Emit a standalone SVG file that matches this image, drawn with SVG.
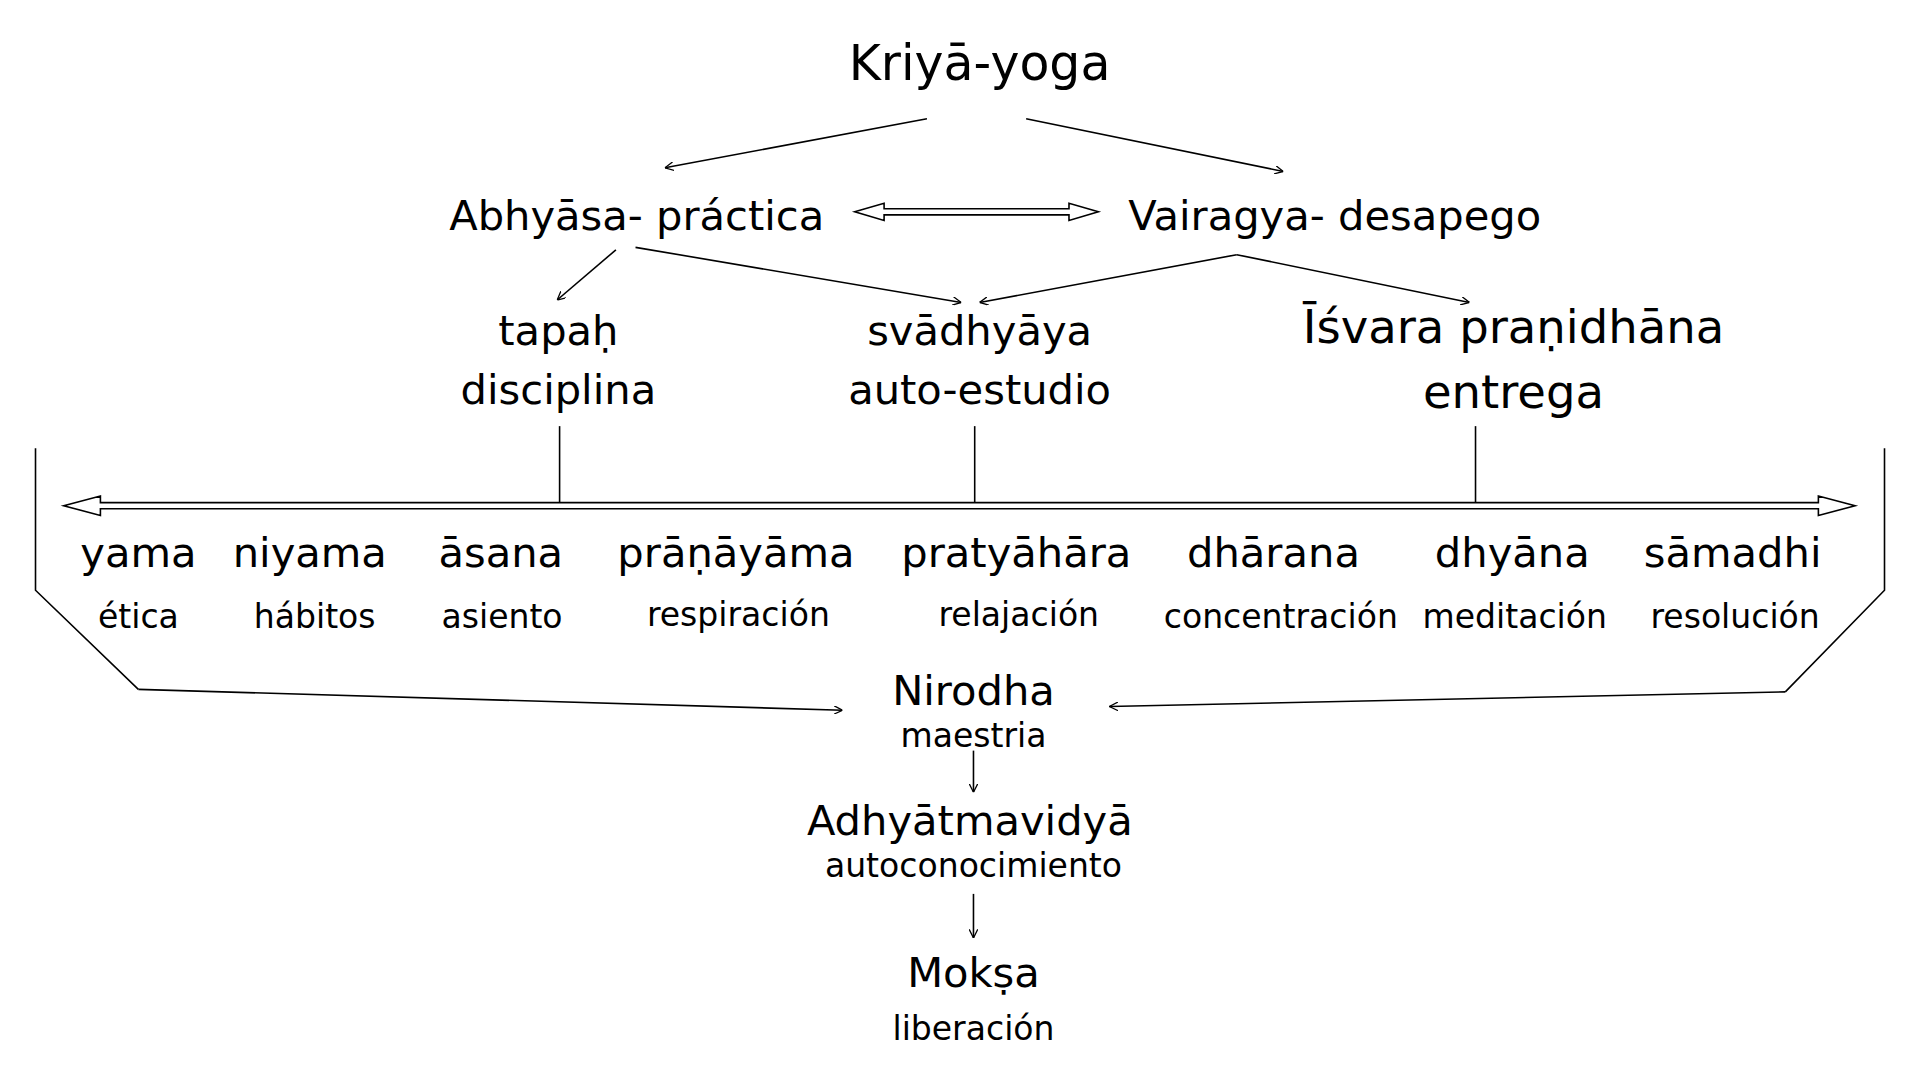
<svg xmlns="http://www.w3.org/2000/svg" width="1920" height="1080" viewBox="0 0 1920 1080">
<defs>
<marker id="ah" viewBox="0 0 10 10" refX="10" refY="5" markerWidth="7" markerHeight="7" orient="auto" markerUnits="userSpaceOnUse"><path d="M0,0 L10,5 L0,10" fill="none" stroke="#000" stroke-width="1.5"/></marker>
</defs>
<style>
text{font-family:"DejaVu Sans","Liberation Sans",sans-serif;fill:#000;text-anchor:middle}
.t{font-size:40px}.m{font-size:34px}.s{font-size:27px}.b{font-size:38px}
line,polyline{stroke:#000;stroke-width:1.3;fill:none}
.ar{marker-end:url(#ah)}
.h{fill:#fff;stroke:#000;stroke-width:1.3}
</style>
<rect width="1920" height="1080" fill="#fff"/>
<g transform="scale(1.2245)">
<g id="connectors">
<line class="ar" x1="757" y1="97" x2="543" y2="137"/>
<line class="ar" x1="838" y1="97" x2="1048" y2="140"/>
<polygon class="h" points="698,173 722,166 722,170.5 873,170.5 873,166 897,173 873,180 873,175.5 722,175.5 722,180"/>
<line class="ar" x1="503" y1="204" x2="455" y2="245"/>
<line class="ar" x1="519" y1="202" x2="785" y2="247"/>
<line class="ar" x1="1010" y1="208" x2="800" y2="247"/>
<line class="ar" x1="1010" y1="208" x2="1200" y2="247"/>
<line x1="457" y1="348" x2="457" y2="411"/>
<line x1="796" y1="348" x2="796" y2="411"/>
<line x1="1205" y1="348" x2="1205" y2="411"/>
<polygon class="h" points="52,413 82,405 82,410.5 1485,410.5 1485,405 1515,413 1485,421 1485,415.5 82,415.5 82,421"/>
<polyline points="29,366 29,482 113,563"/>
<line class="ar" x1="113" y1="563" x2="688" y2="580"/>
<polyline points="1539,366 1539,482 1458,565"/>
<line class="ar" x1="1458" y1="565" x2="906" y2="577"/>
<line class="ar" x1="795" y1="613" x2="795" y2="647"/>
<line class="ar" x1="795" y1="730" x2="795" y2="766"/>
</g>
<g id="kriya"><text class="t" x="800" y="65">Kriyā-yoga</text></g>
<g id="abhyasa"><text class="m" x="520" y="188">Abhyāsa- práctica</text></g>
<g id="vairagya"><text class="m" x="1090" y="188">Vairagya- desapego</text></g>
<g id="tapah"><text class="m" x="456" y="282">tapaḥ</text><text class="m" x="456" y="330">disciplina</text></g>
<g id="svadhyaya"><text class="m" x="800" y="282">svādhyāya</text><text class="m" x="800" y="330">auto-estudio</text></g>
<g id="isvara"><text class="b" x="1236" y="280">Īśvara praṇidhāna</text><text class="b" x="1236" y="333">entrega</text></g>
<g id="yama"><text class="m" x="113" y="463">yama</text><text class="s" x="113" y="513">ética</text></g>
<g id="niyama"><text class="m" x="253" y="463">niyama</text><text class="s" x="257" y="513">hábitos</text></g>
<g id="asana"><text class="m" x="409" y="463">āsana</text><text class="s" x="410" y="513">asiento</text></g>
<g id="pranayama"><text class="m" x="601" y="463">prāṇāyāma</text><text class="s" x="603" y="511">respiración</text></g>
<g id="pratyahara"><text class="m" x="830" y="463">pratyāhāra</text><text class="s" x="832" y="511">relajación</text></g>
<g id="dharana"><text class="m" x="1040" y="463">dhārana</text><text class="s" x="1046" y="513">concentración</text></g>
<g id="dhyana"><text class="m" x="1235" y="463">dhyāna</text><text class="s" x="1237" y="513">meditación</text></g>
<g id="samadhi"><text class="m" x="1415" y="463">sāmadhi</text><text class="s" x="1417" y="513">resolución</text></g>
<g id="nirodha"><text class="m" x="795" y="576">Nirodha</text><text class="s" x="795" y="610">maestria</text></g>
<g id="adhyatma"><text class="m" x="792" y="682">Adhyātmavidyā</text><text class="s" x="795" y="716">autoconocimiento</text></g>
<g id="moksa"><text class="m" x="795" y="806">Mokṣa</text><text class="s" x="795" y="849">liberación</text></g>
</g>
</svg>
